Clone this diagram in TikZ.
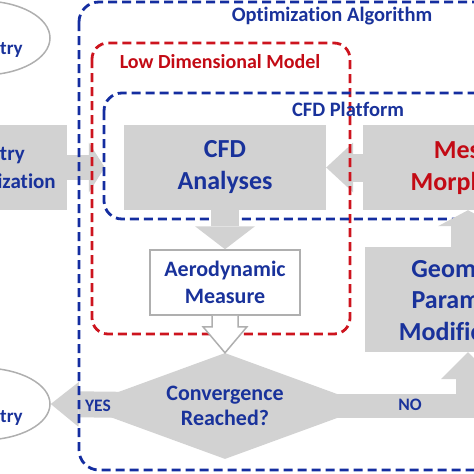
\documentclass[tikz,border=0pt]{standalone}
\usepackage{fontspec}
\setmainfont{Carlito}[Ligatures=NoCommon]
\usetikzlibrary{arrows.meta, shapes.geometric, calc, backgrounds}

\definecolor{boxgray}{RGB}{210,210,210}
\definecolor{edgegray}{RGB}{175,175,175}
\definecolor{txtblue}{RGB}{25,50,155}
\definecolor{dashblue}{RGB}{20,45,160}
\definecolor{dashred}{RGB}{205,20,30}
\definecolor{txtred}{RGB}{195,10,20}

\begin{document}
\begin{tikzpicture}[x=1pt, y=-1pt,
    gbox/.style = {fill=boxgray, text=txtblue, font=\bfseries\fontsize{26}{32}\selectfont, align=center, inner sep=0pt},
    wbox/.style = {draw=edgegray, fill=white, line width=1.5pt, text=txtblue, font=\bfseries\fontsize{22}{27}\selectfont, align=center, inner sep=0pt},
    ellip/.style = {draw=edgegray, ellipse, line width=1.5pt, inner sep=0pt},
    lbl/.style = {text=txtblue, font=\bfseries\fontsize{20}{23}\selectfont, inner sep=0pt},
    bluedash/.style = {draw=dashblue, line width=2.8pt, dash pattern=on 9pt off 5pt},
    reddash/.style = {draw=dashred, line width=2.8pt, dash pattern=on 9pt off 5pt},
    barrow/.style = {draw=boxgray, line join=miter}]

    \useasboundingbox (0,0) rectangle (474,474);
    \clip (0,0) rectangle (474,474);

    % boxes
    \node[gbox, minimum width=172pt, minimum height=85pt, font=\bfseries\fontsize{21}{28}\selectfont] (param) at (-19,167.5) {Geometry\\Parameterization};
    \node[gbox, minimum width=202pt, minimum height=85pt] (cfd) at (225,167.5) {CFD\\Analyses};
    \node[gbox, minimum width=202pt, minimum height=85pt, text=txtred] (mesh) at (464,167.5) {Mesh\\Morphing};
    \node[gbox, minimum width=206pt, minimum height=105pt, font=\bfseries\fontsize{26}{31.5}\selectfont] (geom) at (468,299.5) {Geometric\\Parameter\\Modification};
    \node[wbox, minimum width=150pt, minimum height=65pt] (aero) at (225,282.5) {Aerodynamic\\Measure};
    \node[gbox, diamond, shape aspect=2.74, minimum width=290pt, minimum height=106pt, font=\bfseries\fontsize{22}{25.5}\selectfont] (conv) at (225,406) {Convergence\\Reached?};

    \node[ellip, minimum width=134pt, minimum height=74pt] (geoin) at (-17,38) {};
    \node[lbl, font=\bfseries\fontsize{19}{22}\selectfont] (geointxt) at (-17,50) {Geometry};
    \node[ellip, minimum width=134pt, minimum height=72pt] (geoout) at (-17,404) {};
    \node[lbl, font=\bfseries\fontsize{19}{22}\selectfont] (geoouttxt) at (-17,418) {Geometry};

    % arrows under the frames
    \begin{scope}[on background layer]
        \draw[barrow, line width=25pt, shorten >=19pt, -{Triangle[length=16pt, width=50pt, line width=0pt]}] (param.east) -- (cfd.west);
        \draw[barrow, line width=28pt, -{Triangle[length=27pt, width=50pt, line width=0pt]}] (mesh.west) -- (cfd.east);
        \draw[barrow, line width=26pt, -{Triangle[length=28pt, width=45pt, line width=0pt]}] (conv.center) -- (geoout.east);
        \draw[barrow, line width=24pt, -{Triangle[length=27pt, width=54pt, line width=0pt]}] (conv.center) -| (geom.south);
    \end{scope}

    % frames
    \draw[bluedash, rounded corners=20pt] (79,2) rectangle (640,470);
    \draw[reddash, rounded corners=16pt] (92,43) rectangle (350,334);
    \draw[bluedash, rounded corners=18pt] (104,93) rectangle (640,219);

    \node[lbl, font=\bfseries\fontsize{20.5}{24}\selectfont] (optlbl) at (332,16) {Optimization Algorithm};
    \node[lbl, text=txtred] (lowlbl) at (220,62) {Low Dimensional Model};
    \node[lbl, font=\bfseries\fontsize{20.5}{23}\selectfont] (cfdlbl) at (348,109) {CFD Platform};

    % arrows over the frames
    \draw[barrow, line width=28pt, -{Triangle[length=23pt, width=60pt, line width=0pt]}] (cfd.south) -- (aero.north);
    \draw[barrow, line width=34pt, -{Triangle[length=16pt, width=60pt, line width=0pt]}] (geom.north) -- (geom.north |- mesh.south);
    \filldraw[draw=edgegray, fill=white, line width=1.5pt, line join=miter]
        ($(aero.south)+(-13,0)$) -- ++(0,11) -- ++(-9,0) -- (conv.north)
        -- ($(aero.south)+(22,11)$) -- ++(-9,0) -- ++(0,-11);

    \node[lbl, font=\bfseries\fontsize{17.5}{20}\selectfont] (yes) at (98,406) {YES};
    \node[lbl, font=\bfseries\fontsize{17.5}{20}\selectfont] (no) at (410,405) {NO};
\end{tikzpicture}
\end{document}
